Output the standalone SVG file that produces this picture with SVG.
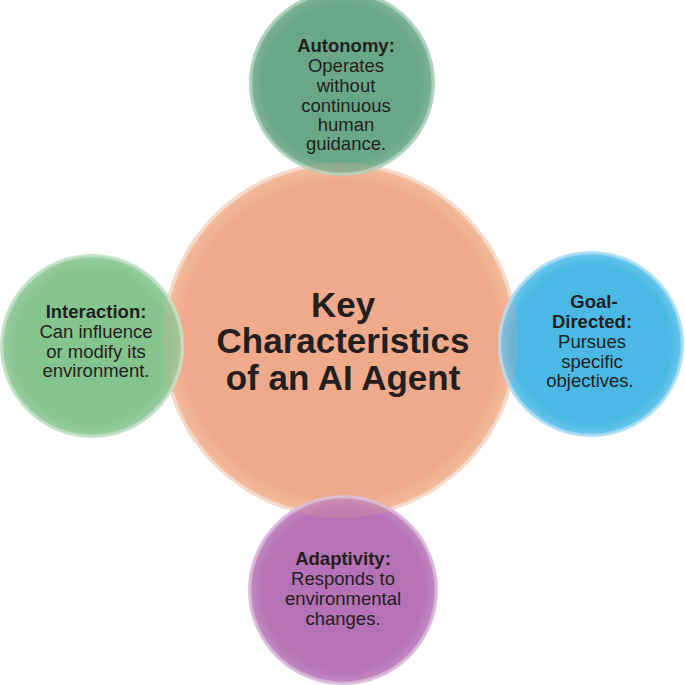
<svg xmlns="http://www.w3.org/2000/svg" width="685" height="685" viewBox="0 0 685 685">
  <style>
    .t { font-family: "Liberation Sans", Arial, sans-serif; fill: #231f20; text-anchor: middle; }
    .small { font-size: 18.5px; }
    .b { font-weight: bold; }
    .big { font-size: 35px; font-weight: bold; }
    .rim { fill: none; stroke: #ffffff; stroke-opacity: 0.3; stroke-width: 3; }
    .tint { fill: #eeaa8b; opacity: 0.22; }
  </style>
  <defs>
    <radialGradient id="gOrange" cx="0.5" cy="0.5" r="0.5">
      <stop offset="0.88" stop-color="#eeaa8b"/>
      <stop offset="0.97" stop-color="#f1b898"/>
      <stop offset="1" stop-color="#f4d6c4"/>
    </radialGradient>
    <radialGradient id="gTop" cx="0.5" cy="0.5" r="0.5">
      <stop offset="0.85" stop-color="#6aa786"/>
      <stop offset="0.97" stop-color="#7cb394"/>
      <stop offset="1" stop-color="#a9cfb9"/>
    </radialGradient>
    <radialGradient id="gLeft" cx="0.5" cy="0.5" r="0.5">
      <stop offset="0.85" stop-color="#86c48e"/>
      <stop offset="0.97" stop-color="#98cd9f"/>
      <stop offset="1" stop-color="#c4e3c8"/>
    </radialGradient>
    <radialGradient id="gRight" cx="0.5" cy="0.5" r="0.5">
      <stop offset="0.85" stop-color="#4ab9e6"/>
      <stop offset="0.97" stop-color="#68c5eb"/>
      <stop offset="1" stop-color="#b3e1f3"/>
    </radialGradient>
    <radialGradient id="gBottom" cx="0.5" cy="0.5" r="0.5">
      <stop offset="0.85" stop-color="#b572b5"/>
      <stop offset="0.97" stop-color="#c188c1"/>
      <stop offset="1" stop-color="#dcbcdc"/>
    </radialGradient>
    <clipPath id="cTop"><circle cx="342" cy="83" r="93"/></clipPath>
    <clipPath id="cLeft"><circle cx="92" cy="346" r="92"/></clipPath>
    <clipPath id="cRight"><circle cx="591" cy="344" r="93"/></clipPath>
    <clipPath id="cBottom"><circle cx="343" cy="590" r="95"/></clipPath>
  </defs>

  <rect width="685" height="685" fill="#ffffff"/>

  <g id="center">
    <circle cx="340" cy="340" r="178" fill="url(#gOrange)"/>
    <circle cx="340" cy="340" r="176" class="rim"/>
    <text class="t big" x="343" y="317">Key</text>
    <text class="t big" x="343" y="353">Characteristics</text>
    <text class="t big" x="343" y="390">of an AI Agent</text>
  </g>

  <g id="autonomy">
    <circle cx="342" cy="83" r="93" fill="url(#gTop)"/>
    <circle cx="340" cy="340" r="178" class="tint" clip-path="url(#cTop)"/>
    <circle cx="342" cy="83" r="91" class="rim"/>
    <text class="t small b" x="346" y="52">Autonomy:</text>
    <text class="t small" x="346" y="72">Operates</text>
    <text class="t small" x="346" y="92">without</text>
    <text class="t small" x="346" y="112">continuous</text>
    <text class="t small" x="346" y="131">human</text>
    <text class="t small" x="346" y="150">guidance.</text>
  </g>

  <g id="interaction">
    <circle cx="92" cy="346" r="92" fill="url(#gLeft)"/>
    <circle cx="340" cy="340" r="178" class="tint" clip-path="url(#cLeft)"/>
    <circle cx="92" cy="346" r="90" class="rim"/>
    <text class="t small b" x="96" y="318">Interaction:</text>
    <text class="t small" x="96" y="338">Can influence</text>
    <text class="t small" x="96" y="358">or modify its</text>
    <text class="t small" x="96" y="377">environment.</text>
  </g>

  <g id="goal-directed">
    <circle cx="591" cy="344" r="93" fill="url(#gRight)"/>
    <circle cx="340" cy="340" r="178" class="tint" clip-path="url(#cRight)"/>
    <circle cx="591" cy="344" r="91" class="rim"/>
    <text class="t small b" x="594" y="308">Goal-</text>
    <text class="t small b" x="592" y="328">Directed:</text>
    <text class="t small" x="592" y="348">Pursues</text>
    <text class="t small" x="592" y="368">specific</text>
    <text class="t small" x="590" y="387">objectives.</text>
  </g>

  <g id="adaptivity">
    <circle cx="343" cy="590" r="95" fill="url(#gBottom)"/>
    <circle cx="340" cy="340" r="178" class="tint" clip-path="url(#cBottom)"/>
    <circle cx="343" cy="590" r="93" class="rim"/>
    <text class="t small b" x="343" y="565">Adaptivity:</text>
    <text class="t small" x="343" y="585">Responds to</text>
    <text class="t small" x="343" y="605">environmental</text>
    <text class="t small" x="343" y="625">changes.</text>
  </g>
</svg>
